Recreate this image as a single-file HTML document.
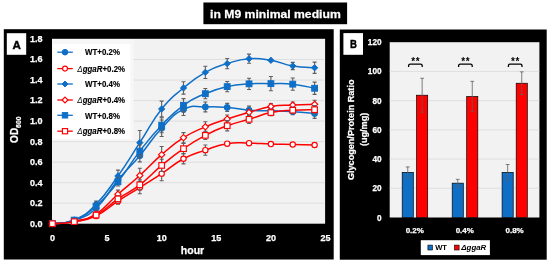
<!DOCTYPE html>
<html lang="en"><head><meta charset="utf-8"><title>in M9 minimal medium</title>
<style>html,body{margin:0;padding:0;background:#fff}svg{display:block}</style>
</head><body>
<svg width="550" height="263" viewBox="0 0 550 263" font-family="'Liberation Sans', Arial, sans-serif" font-weight="bold">
<rect width="550" height="263" fill="#ffffff"/>
<rect x="203.4" y="2.5" width="143.7" height="21.7" fill="#000"/>
<text transform="translate(275.4 18.4) scale(1.07 1)" font-size="11.4" fill="#fff" stroke="#fff" stroke-width="0.25" text-anchor="middle">in M9 minimal medium</text>
<rect x="3.8" y="29.2" width="329.9" height="230.3" fill="#000"/>
<rect x="6.8" y="33.2" width="19.4" height="21.6" fill="#fff"/>
<text x="16.8" y="49" font-size="11.6" fill="#000" stroke="#000" stroke-width="0.4" text-anchor="middle">A</text>
<rect x="52" y="38.8" width="73.1" height="184.90" fill="#f2f2f2"/>
<rect x="125" y="38.8" width="200.1" height="184.90" fill="#f2f2f2"/>
<line x1="52.00" x2="325.10" y1="203.18" y2="203.18" stroke="#d9d9d9" stroke-width="0.8"/>
<line x1="52.00" x2="325.10" y1="182.66" y2="182.66" stroke="#d9d9d9" stroke-width="0.8"/>
<line x1="52.00" x2="325.10" y1="162.13" y2="162.13" stroke="#d9d9d9" stroke-width="0.8"/>
<line x1="52.00" x2="325.10" y1="141.61" y2="141.61" stroke="#d9d9d9" stroke-width="0.8"/>
<line x1="52.00" x2="325.10" y1="121.09" y2="121.09" stroke="#d9d9d9" stroke-width="0.8"/>
<line x1="52.00" x2="325.10" y1="100.57" y2="100.57" stroke="#d9d9d9" stroke-width="0.8"/>
<line x1="52.00" x2="325.10" y1="80.04" y2="80.04" stroke="#d9d9d9" stroke-width="0.8"/>
<line x1="52.00" x2="325.10" y1="59.52" y2="59.52" stroke="#d9d9d9" stroke-width="0.8"/>
<text x="42.4" y="226.60" font-size="9" fill="#fff" stroke="#fff" stroke-width="0.25" text-anchor="end">0.0</text>
<text x="42.4" y="206.08" font-size="9" fill="#fff" stroke="#fff" stroke-width="0.25" text-anchor="end">0.2</text>
<text x="42.4" y="185.56" font-size="9" fill="#fff" stroke="#fff" stroke-width="0.25" text-anchor="end">0.4</text>
<text x="42.4" y="165.03" font-size="9" fill="#fff" stroke="#fff" stroke-width="0.25" text-anchor="end">0.6</text>
<text x="42.4" y="144.51" font-size="9" fill="#fff" stroke="#fff" stroke-width="0.25" text-anchor="end">0.8</text>
<text x="42.4" y="123.99" font-size="9" fill="#fff" stroke="#fff" stroke-width="0.25" text-anchor="end">1.0</text>
<text x="42.4" y="103.47" font-size="9" fill="#fff" stroke="#fff" stroke-width="0.25" text-anchor="end">1.2</text>
<text x="42.4" y="82.94" font-size="9" fill="#fff" stroke="#fff" stroke-width="0.25" text-anchor="end">1.4</text>
<text x="42.4" y="62.42" font-size="9" fill="#fff" stroke="#fff" stroke-width="0.25" text-anchor="end">1.6</text>
<text x="42.4" y="41.90" font-size="9" fill="#fff" stroke="#fff" stroke-width="0.25" text-anchor="end">1.8</text>
<text x="52.40" y="240.6" font-size="9" fill="#fff" stroke="#fff" stroke-width="0.25" text-anchor="middle">0</text>
<text x="107.03" y="240.6" font-size="9" fill="#fff" stroke="#fff" stroke-width="0.25" text-anchor="middle">5</text>
<text x="161.65" y="240.6" font-size="9" fill="#fff" stroke="#fff" stroke-width="0.25" text-anchor="middle">10</text>
<text x="216.28" y="240.6" font-size="9" fill="#fff" stroke="#fff" stroke-width="0.25" text-anchor="middle">15</text>
<text x="270.90" y="240.6" font-size="9" fill="#fff" stroke="#fff" stroke-width="0.25" text-anchor="middle">20</text>
<text x="325.52" y="240.6" font-size="9" fill="#fff" stroke="#fff" stroke-width="0.25" text-anchor="middle">25</text>
<text x="192.5" y="253.7" font-size="10.5" fill="#fff" stroke="#fff" stroke-width="0.25" text-anchor="middle">hour</text>
<text transform="translate(17.7 142.9) rotate(-90)" font-size="10" fill="#fff" stroke="#fff" stroke-width="0.25">OD<tspan font-size="6.8" dy="3.2">600</tspan></text>
<rect x="52" y="39" width="81.6" height="102" fill="#f7f7f7"/>
<rect x="53" y="44" width="77.3" height="94.8" fill="#ffffff"/>
<line x1="57.3" x2="72.8" y1="52.20" y2="52.20" stroke="#0f6fc6" stroke-width="1.3"/>
<circle cx="65.00" cy="52.20" r="2.80" fill="#0f6fc6" stroke="#0f6fc6" stroke-width="1.00"/>
<text transform="translate(102.5 55.40) scale(0.86 1)" font-size="9.2" fill="#000" stroke="#000" stroke-width="0.15" text-anchor="middle">WT+0.2%</text>
<line x1="57.3" x2="72.8" y1="68.60" y2="68.60" stroke="#ff0000" stroke-width="1.3"/>
<circle cx="65.00" cy="68.60" r="2.45" fill="#ffffff" stroke="#ff0000" stroke-width="1.15"/>
<text transform="translate(101.2 71.80) scale(0.86 1)" font-size="9.2" fill="#000" stroke="#000" stroke-width="0.15" text-anchor="middle"><tspan font-style="italic" font-weight="normal" stroke="none">Δ</tspan><tspan font-style="italic">ggaR</tspan>+0.2%</text>
<line x1="57.3" x2="72.8" y1="84.00" y2="84.00" stroke="#0f6fc6" stroke-width="1.3"/>
<path d="M65.00 81.05 L67.95 84.00 L65.00 86.95 L62.05 84.00Z" fill="#0f6fc6" stroke="#0f6fc6" stroke-width="1.00"/>
<text transform="translate(102.5 87.20) scale(0.86 1)" font-size="9.2" fill="#000" stroke="#000" stroke-width="0.15" text-anchor="middle">WT+0.4%</text>
<line x1="57.3" x2="72.8" y1="100.00" y2="100.00" stroke="#ff0000" stroke-width="1.3"/>
<path d="M65.00 97.10 L67.90 100.00 L65.00 102.90 L62.10 100.00Z" fill="#ffffff" stroke="#ff0000" stroke-width="1.15"/>
<text transform="translate(101.2 103.20) scale(0.86 1)" font-size="9.2" fill="#000" stroke="#000" stroke-width="0.15" text-anchor="middle"><tspan font-style="italic" font-weight="normal" stroke="none">Δ</tspan><tspan font-style="italic">ggaR</tspan>+0.4%</text>
<line x1="57.3" x2="72.8" y1="115.30" y2="115.30" stroke="#0f6fc6" stroke-width="1.3"/>
<rect x="62.30" y="112.60" width="5.40" height="5.40" fill="#0f6fc6" stroke="#0f6fc6" stroke-width="1.00"/>
<text transform="translate(102.5 118.50) scale(0.86 1)" font-size="9.2" fill="#000" stroke="#000" stroke-width="0.15" text-anchor="middle">WT+0.8%</text>
<line x1="57.3" x2="72.8" y1="131.20" y2="131.20" stroke="#ff0000" stroke-width="1.3"/>
<rect x="62.40" y="128.60" width="5.20" height="5.20" fill="#ffffff" stroke="#ff0000" stroke-width="1.15"/>
<text transform="translate(101.2 134.40) scale(0.86 1)" font-size="9.2" fill="#000" stroke="#000" stroke-width="0.15" text-anchor="middle"><tspan font-style="italic" font-weight="normal" stroke="none">Δ</tspan><tspan font-style="italic">ggaR</tspan>+0.8%</text>
<path d="M96.10 205.13 V211.28 M94.10 205.13 H98.10 M94.10 211.28 H98.10" stroke="#5f5f5f" stroke-width="1.10" fill="none" opacity="1.00"/>
<path d="M117.95 175.99 V184.19 M115.95 175.99 H119.95 M115.95 184.19 H119.95" stroke="#5f5f5f" stroke-width="1.10" fill="none" opacity="1.00"/>
<path d="M139.80 149.51 V161.83 M137.80 149.51 H141.80 M137.80 161.83 H141.80" stroke="#5f5f5f" stroke-width="1.10" fill="none" opacity="1.00"/>
<path d="M161.65 120.06 V136.48 M159.65 120.06 H163.65 M159.65 136.48 H163.65" stroke="#5f5f5f" stroke-width="1.10" fill="none" opacity="1.00"/>
<path d="M183.50 103.23 V115.55 M181.50 103.23 H185.50 M181.50 115.55 H185.50" stroke="#5f5f5f" stroke-width="1.10" fill="none" opacity="1.00"/>
<path d="M205.35 102.00 V111.85 M203.35 102.00 H207.35 M203.35 111.85 H207.35" stroke="#5f5f5f" stroke-width="1.10" fill="none" opacity="1.00"/>
<path d="M227.20 103.34 V111.55 M225.20 103.34 H229.20 M225.20 111.55 H229.20" stroke="#5f5f5f" stroke-width="1.10" fill="none" opacity="1.00"/>
<path d="M249.05 106.11 V114.32 M247.05 106.11 H251.05 M247.05 114.32 H251.05" stroke="#5f5f5f" stroke-width="1.10" fill="none" opacity="1.00"/>
<path d="M270.90 107.75 V113.91 M268.90 107.75 H272.90 M268.90 113.91 H272.90" stroke="#5f5f5f" stroke-width="1.10" fill="none" opacity="1.00"/>
<path d="M292.75 108.57 V114.73 M290.75 108.57 H294.75 M290.75 114.73 H294.75" stroke="#5f5f5f" stroke-width="1.10" fill="none" opacity="1.00"/>
<path d="M314.60 108.57 V118.42 M312.60 108.57 H316.60 M312.60 118.42 H316.60" stroke="#5f5f5f" stroke-width="1.10" fill="none" opacity="1.00"/>
<path d="M52.40 223.70 C57.86 222.80 63.33 223.98 74.25 220.11 C85.17 216.24 85.17 218.21 96.10 208.21 C107.03 198.20 107.03 193.22 117.95 180.09 C128.88 166.96 128.88 168.62 139.80 155.67 C150.73 142.71 150.72 139.84 161.65 128.27 C172.58 116.70 172.58 114.73 183.50 109.39 C194.43 104.06 194.43 107.42 205.35 106.93 C216.28 106.44 216.28 106.62 227.20 107.44 C238.12 108.26 238.13 109.37 249.05 110.21 C259.98 111.06 259.97 110.47 270.90 110.83 C281.82 111.19 281.82 110.98 292.75 111.65 C303.68 112.32 309.14 113.03 314.60 113.50" fill="none" stroke="#0f6fc6" stroke-width="1.5" stroke-linejoin="round"/>
<circle cx="52.40" cy="223.70" r="3.00" fill="#0f6fc6" stroke="#0f6fc6" stroke-width="1.00"/>
<circle cx="74.25" cy="220.11" r="3.00" fill="#0f6fc6" stroke="#0f6fc6" stroke-width="1.00"/>
<circle cx="96.10" cy="208.21" r="3.00" fill="#0f6fc6" stroke="#0f6fc6" stroke-width="1.00"/>
<circle cx="117.95" cy="180.09" r="3.00" fill="#0f6fc6" stroke="#0f6fc6" stroke-width="1.00"/>
<circle cx="139.80" cy="155.67" r="3.00" fill="#0f6fc6" stroke="#0f6fc6" stroke-width="1.00"/>
<circle cx="161.65" cy="128.27" r="3.00" fill="#0f6fc6" stroke="#0f6fc6" stroke-width="1.00"/>
<circle cx="183.50" cy="109.39" r="3.00" fill="#0f6fc6" stroke="#0f6fc6" stroke-width="1.00"/>
<circle cx="205.35" cy="106.93" r="3.00" fill="#0f6fc6" stroke="#0f6fc6" stroke-width="1.00"/>
<circle cx="227.20" cy="107.44" r="3.00" fill="#0f6fc6" stroke="#0f6fc6" stroke-width="1.00"/>
<circle cx="249.05" cy="110.21" r="3.00" fill="#0f6fc6" stroke="#0f6fc6" stroke-width="1.00"/>
<circle cx="270.90" cy="110.83" r="3.00" fill="#0f6fc6" stroke="#0f6fc6" stroke-width="1.00"/>
<circle cx="292.75" cy="111.65" r="3.00" fill="#0f6fc6" stroke="#0f6fc6" stroke-width="1.00"/>
<circle cx="314.60" cy="113.50" r="3.00" fill="#0f6fc6" stroke="#0f6fc6" stroke-width="1.00"/>
<path d="M96.10 214.88 V216.93 M94.10 214.88 H98.10 M94.10 216.93 H98.10" stroke="#5f5f5f" stroke-width="1.10" fill="none" opacity="1.00"/>
<path d="M117.95 198.05 V204.20 M115.95 198.05 H119.95 M115.95 204.20 H119.95" stroke="#5f5f5f" stroke-width="1.10" fill="none" opacity="1.00"/>
<path d="M139.80 181.42 V193.74 M137.80 181.42 H141.80 M137.80 193.74 H141.80" stroke="#5f5f5f" stroke-width="1.10" fill="none" opacity="1.00"/>
<path d="M161.65 166.44 V180.81 M159.65 166.44 H163.65 M159.65 180.81 H163.65" stroke="#5f5f5f" stroke-width="1.10" fill="none" opacity="1.00"/>
<path d="M183.50 153.62 V163.88 M181.50 153.62 H185.50 M181.50 163.88 H185.50" stroke="#5f5f5f" stroke-width="1.10" fill="none" opacity="1.00"/>
<path d="M205.35 145.00 V155.26 M203.35 145.00 H207.35 M203.35 155.26 H207.35" stroke="#5f5f5f" stroke-width="1.10" fill="none" opacity="1.00"/>
<path d="M314.60 142.95 V147.05 M312.60 142.95 H316.60 M312.60 147.05 H316.60" stroke="#5f5f5f" stroke-width="1.10" fill="none" opacity="1.00"/>
<path d="M52.40 223.70 C57.86 223.24 63.33 223.80 74.25 221.85 C85.17 219.90 85.17 221.08 96.10 215.90 C107.03 210.72 107.03 208.21 117.95 201.13 C128.88 194.05 128.88 194.46 139.80 187.58 C150.73 180.71 150.72 180.83 161.65 173.63 C172.58 166.42 172.58 164.62 183.50 158.75 C194.43 152.87 194.43 153.90 205.35 150.13 C216.28 146.36 216.28 145.41 227.20 143.66 C238.12 141.92 238.13 143.05 249.05 143.15 C259.98 143.25 259.97 143.74 270.90 144.07 C281.82 144.41 281.82 144.25 292.75 144.48 C303.68 144.72 309.14 144.87 314.60 145.00" fill="none" stroke="#ff0000" stroke-width="1.5" stroke-linejoin="round"/>
<circle cx="52.40" cy="223.70" r="2.65" fill="#ffffff" stroke="#ff0000" stroke-width="1.15"/>
<circle cx="74.25" cy="221.85" r="2.65" fill="#ffffff" stroke="#ff0000" stroke-width="1.15"/>
<circle cx="96.10" cy="215.90" r="2.65" fill="#ffffff" stroke="#ff0000" stroke-width="1.15"/>
<circle cx="117.95" cy="201.13" r="2.65" fill="#ffffff" stroke="#ff0000" stroke-width="1.15"/>
<circle cx="139.80" cy="187.58" r="2.65" fill="#ffffff" stroke="#ff0000" stroke-width="1.15"/>
<circle cx="161.65" cy="173.63" r="2.65" fill="#ffffff" stroke="#ff0000" stroke-width="1.15"/>
<circle cx="183.50" cy="158.75" r="2.65" fill="#ffffff" stroke="#ff0000" stroke-width="1.15"/>
<circle cx="205.35" cy="150.13" r="2.65" fill="#ffffff" stroke="#ff0000" stroke-width="1.15"/>
<circle cx="227.20" cy="143.66" r="2.65" fill="#ffffff" stroke="#ff0000" stroke-width="1.15"/>
<circle cx="249.05" cy="143.15" r="2.65" fill="#ffffff" stroke="#ff0000" stroke-width="1.15"/>
<circle cx="270.90" cy="144.07" r="2.65" fill="#ffffff" stroke="#ff0000" stroke-width="1.15"/>
<circle cx="292.75" cy="144.48" r="2.65" fill="#ffffff" stroke="#ff0000" stroke-width="1.15"/>
<circle cx="314.60" cy="145.00" r="2.65" fill="#ffffff" stroke="#ff0000" stroke-width="1.15"/>
<path d="M96.10 201.13 V207.28 M94.10 201.13 H98.10 M94.10 207.28 H98.10" stroke="#5f5f5f" stroke-width="1.10" fill="none" opacity="1.00"/>
<path d="M117.95 170.14 V181.83 M115.95 170.14 H119.95 M115.95 181.83 H119.95" stroke="#5f5f5f" stroke-width="1.10" fill="none" opacity="1.00"/>
<path d="M139.80 130.43 V154.85 M137.80 130.43 H141.80 M137.80 154.85 H141.80" stroke="#5f5f5f" stroke-width="1.10" fill="none" opacity="1.00"/>
<path d="M161.65 101.08 V116.88 M159.65 101.08 H163.65 M159.65 116.88 H163.65" stroke="#5f5f5f" stroke-width="1.10" fill="none" opacity="1.00"/>
<path d="M183.50 81.79 V94.10 M181.50 81.79 H185.50 M181.50 94.10 H185.50" stroke="#5f5f5f" stroke-width="1.10" fill="none" opacity="1.00"/>
<path d="M205.35 66.19 V78.51 M203.35 66.19 H207.35 M203.35 78.51 H207.35" stroke="#5f5f5f" stroke-width="1.10" fill="none" opacity="1.00"/>
<path d="M227.20 58.50 V68.76 M225.20 58.50 H229.20 M225.20 68.76 H229.20" stroke="#5f5f5f" stroke-width="1.10" fill="none" opacity="1.00"/>
<path d="M249.05 54.08 V63.32 M247.05 54.08 H251.05 M247.05 63.32 H251.05" stroke="#5f5f5f" stroke-width="1.10" fill="none" opacity="1.00"/>
<path d="M292.75 62.40 V69.58 M290.75 62.40 H294.75 M290.75 69.58 H294.75" stroke="#5f5f5f" stroke-width="1.10" fill="none" opacity="1.00"/>
<path d="M314.60 62.09 V73.37 M312.60 62.09 H316.60 M312.60 73.37 H316.60" stroke="#5f5f5f" stroke-width="1.10" fill="none" opacity="1.00"/>
<path d="M52.40 223.70 C57.86 222.80 63.33 224.98 74.25 220.11 C85.17 215.23 85.17 215.23 96.10 204.20 C107.03 193.17 107.03 191.38 117.95 175.99 C128.88 160.59 128.88 159.39 139.80 142.64 C150.73 125.89 150.72 122.65 161.65 108.98 C172.58 95.31 172.58 97.10 183.50 87.95 C194.43 78.79 194.43 78.43 205.35 72.35 C216.28 66.27 216.28 67.04 227.20 63.63 C238.12 60.21 238.13 59.52 249.05 58.70 C259.98 57.88 259.97 58.52 270.90 60.34 C281.82 62.16 281.82 64.14 292.75 65.99 C303.68 67.83 309.14 67.30 314.60 67.73" fill="none" stroke="#0f6fc6" stroke-width="1.5" stroke-linejoin="round"/>
<path d="M52.40 220.55 L55.55 223.70 L52.40 226.85 L49.25 223.70Z" fill="#0f6fc6" stroke="#0f6fc6" stroke-width="1.00"/>
<path d="M74.25 216.96 L77.40 220.11 L74.25 223.26 L71.10 220.11Z" fill="#0f6fc6" stroke="#0f6fc6" stroke-width="1.00"/>
<path d="M96.10 201.05 L99.25 204.20 L96.10 207.35 L92.95 204.20Z" fill="#0f6fc6" stroke="#0f6fc6" stroke-width="1.00"/>
<path d="M117.95 172.84 L121.10 175.99 L117.95 179.14 L114.80 175.99Z" fill="#0f6fc6" stroke="#0f6fc6" stroke-width="1.00"/>
<path d="M139.80 139.49 L142.95 142.64 L139.80 145.79 L136.65 142.64Z" fill="#0f6fc6" stroke="#0f6fc6" stroke-width="1.00"/>
<path d="M161.65 105.83 L164.80 108.98 L161.65 112.13 L158.50 108.98Z" fill="#0f6fc6" stroke="#0f6fc6" stroke-width="1.00"/>
<path d="M183.50 84.80 L186.65 87.95 L183.50 91.10 L180.35 87.95Z" fill="#0f6fc6" stroke="#0f6fc6" stroke-width="1.00"/>
<path d="M205.35 69.20 L208.50 72.35 L205.35 75.50 L202.20 72.35Z" fill="#0f6fc6" stroke="#0f6fc6" stroke-width="1.00"/>
<path d="M227.20 60.48 L230.35 63.63 L227.20 66.78 L224.05 63.63Z" fill="#0f6fc6" stroke="#0f6fc6" stroke-width="1.00"/>
<path d="M249.05 55.55 L252.20 58.70 L249.05 61.85 L245.90 58.70Z" fill="#0f6fc6" stroke="#0f6fc6" stroke-width="1.00"/>
<path d="M270.90 57.19 L274.05 60.34 L270.90 63.49 L267.75 60.34Z" fill="#0f6fc6" stroke="#0f6fc6" stroke-width="1.00"/>
<path d="M292.75 62.84 L295.90 65.99 L292.75 69.14 L289.60 65.99Z" fill="#0f6fc6" stroke="#0f6fc6" stroke-width="1.00"/>
<path d="M314.60 64.58 L317.75 67.73 L314.60 70.88 L311.45 67.73Z" fill="#0f6fc6" stroke="#0f6fc6" stroke-width="1.00"/>
<path d="M96.10 212.93 V214.98 M94.10 212.93 H98.10 M94.10 214.98 H98.10" stroke="#5f5f5f" stroke-width="1.10" fill="none" opacity="1.00"/>
<path d="M117.95 190.15 V198.36 M115.95 190.15 H119.95 M115.95 198.36 H119.95" stroke="#5f5f5f" stroke-width="1.10" fill="none" opacity="1.00"/>
<path d="M139.80 168.29 V182.66 M137.80 168.29 H141.80 M137.80 182.66 H141.80" stroke="#5f5f5f" stroke-width="1.10" fill="none" opacity="1.00"/>
<path d="M161.65 146.43 V162.85 M159.65 146.43 H163.65 M159.65 162.85 H163.65" stroke="#5f5f5f" stroke-width="1.10" fill="none" opacity="1.00"/>
<path d="M183.50 132.58 V142.84 M181.50 132.58 H185.50 M181.50 142.84 H185.50" stroke="#5f5f5f" stroke-width="1.10" fill="none" opacity="1.00"/>
<path d="M205.35 121.70 V131.97 M203.35 121.70 H207.35 M203.35 131.97 H207.35" stroke="#5f5f5f" stroke-width="1.10" fill="none" opacity="1.00"/>
<path d="M227.20 114.93 V123.14 M225.20 114.93 H229.20 M225.20 123.14 H229.20" stroke="#5f5f5f" stroke-width="1.10" fill="none" opacity="1.00"/>
<path d="M249.05 109.29 V115.45 M247.05 109.29 H251.05 M247.05 115.45 H251.05" stroke="#5f5f5f" stroke-width="1.10" fill="none" opacity="1.00"/>
<path d="M270.90 103.44 V109.60 M268.90 103.44 H272.90 M268.90 109.60 H272.90" stroke="#5f5f5f" stroke-width="1.10" fill="none" opacity="1.00"/>
<path d="M292.75 102.00 V108.16 M290.75 102.00 H294.75 M290.75 108.16 H294.75" stroke="#5f5f5f" stroke-width="1.10" fill="none" opacity="1.00"/>
<path d="M314.60 100.26 V108.47 M312.60 100.26 H316.60 M312.60 108.47 H316.60" stroke="#5f5f5f" stroke-width="1.10" fill="none" opacity="1.00"/>
<path d="M52.40 223.70 C57.86 223.06 63.33 223.57 74.25 221.13 C85.17 218.70 85.17 220.67 96.10 213.95 C107.03 207.23 107.03 203.87 117.95 194.25 C128.88 184.63 128.88 185.37 139.80 175.47 C150.73 165.57 150.72 164.08 161.65 154.64 C172.58 145.20 172.58 144.66 183.50 137.71 C194.43 130.76 194.43 131.50 205.35 126.84 C216.28 122.17 216.28 122.65 227.20 119.04 C238.12 115.42 238.13 115.50 249.05 112.37 C259.98 109.24 259.97 108.34 270.90 106.52 C281.82 104.70 281.82 105.62 292.75 105.08 C303.68 104.54 309.14 104.54 314.60 104.36" fill="none" stroke="#ff0000" stroke-width="1.5" stroke-linejoin="round"/>
<path d="M52.40 220.60 L55.50 223.70 L52.40 226.80 L49.30 223.70Z" fill="#ffffff" stroke="#ff0000" stroke-width="1.15"/>
<path d="M74.25 218.03 L77.35 221.13 L74.25 224.23 L71.15 221.13Z" fill="#ffffff" stroke="#ff0000" stroke-width="1.15"/>
<path d="M96.10 210.85 L99.20 213.95 L96.10 217.05 L93.00 213.95Z" fill="#ffffff" stroke="#ff0000" stroke-width="1.15"/>
<path d="M117.95 191.15 L121.05 194.25 L117.95 197.35 L114.85 194.25Z" fill="#ffffff" stroke="#ff0000" stroke-width="1.15"/>
<path d="M139.80 172.37 L142.90 175.47 L139.80 178.57 L136.70 175.47Z" fill="#ffffff" stroke="#ff0000" stroke-width="1.15"/>
<path d="M161.65 151.54 L164.75 154.64 L161.65 157.74 L158.55 154.64Z" fill="#ffffff" stroke="#ff0000" stroke-width="1.15"/>
<path d="M183.50 134.61 L186.60 137.71 L183.50 140.81 L180.40 137.71Z" fill="#ffffff" stroke="#ff0000" stroke-width="1.15"/>
<path d="M205.35 123.74 L208.45 126.84 L205.35 129.94 L202.25 126.84Z" fill="#ffffff" stroke="#ff0000" stroke-width="1.15"/>
<path d="M227.20 115.94 L230.30 119.04 L227.20 122.14 L224.10 119.04Z" fill="#ffffff" stroke="#ff0000" stroke-width="1.15"/>
<path d="M249.05 109.27 L252.15 112.37 L249.05 115.47 L245.95 112.37Z" fill="#ffffff" stroke="#ff0000" stroke-width="1.15"/>
<path d="M270.90 103.42 L274.00 106.52 L270.90 109.62 L267.80 106.52Z" fill="#ffffff" stroke="#ff0000" stroke-width="1.15"/>
<path d="M292.75 101.98 L295.85 105.08 L292.75 108.18 L289.65 105.08Z" fill="#ffffff" stroke="#ff0000" stroke-width="1.15"/>
<path d="M314.60 101.26 L317.70 104.36 L314.60 107.46 L311.50 104.36Z" fill="#ffffff" stroke="#ff0000" stroke-width="1.15"/>
<path d="M96.10 202.97 V209.13 M94.10 202.97 H98.10 M94.10 209.13 H98.10" stroke="#5f5f5f" stroke-width="1.10" fill="none" opacity="1.00"/>
<path d="M117.95 177.73 V185.94 M115.95 177.73 H119.95 M115.95 185.94 H119.95" stroke="#5f5f5f" stroke-width="1.10" fill="none" opacity="1.00"/>
<path d="M139.80 145.00 V157.31 M137.80 145.00 H141.80 M137.80 157.31 H141.80" stroke="#5f5f5f" stroke-width="1.10" fill="none" opacity="1.00"/>
<path d="M161.65 117.70 V132.68 M159.65 117.70 H163.65 M159.65 132.68 H163.65" stroke="#5f5f5f" stroke-width="1.10" fill="none" opacity="1.00"/>
<path d="M183.50 98.62 V111.96 M181.50 98.62 H185.50 M181.50 111.96 H185.50" stroke="#5f5f5f" stroke-width="1.10" fill="none" opacity="1.00"/>
<path d="M205.35 88.56 V98.82 M203.35 88.56 H207.35 M203.35 98.82 H207.35" stroke="#5f5f5f" stroke-width="1.10" fill="none" opacity="1.00"/>
<path d="M227.20 81.48 V91.74 M225.20 81.48 H229.20 M225.20 91.74 H229.20" stroke="#5f5f5f" stroke-width="1.10" fill="none" opacity="1.00"/>
<path d="M249.05 78.20 V89.48 M247.05 78.20 H251.05 M247.05 89.48 H251.05" stroke="#5f5f5f" stroke-width="1.10" fill="none" opacity="1.00"/>
<path d="M270.90 76.45 V90.82 M268.90 76.45 H272.90 M268.90 90.82 H272.90" stroke="#5f5f5f" stroke-width="1.10" fill="none" opacity="1.00"/>
<path d="M292.75 77.99 V90.31 M290.75 77.99 H294.75 M290.75 90.31 H294.75" stroke="#5f5f5f" stroke-width="1.10" fill="none" opacity="1.00"/>
<path d="M314.60 82.10 V94.41 M312.60 82.10 H316.60 M312.60 94.41 H316.60" stroke="#5f5f5f" stroke-width="1.10" fill="none" opacity="1.00"/>
<path d="M52.40 223.70 C57.86 222.80 63.33 224.52 74.25 220.11 C85.17 215.70 85.17 215.62 96.10 206.05 C107.03 196.48 107.03 195.56 117.95 181.83 C128.88 168.11 128.88 165.31 139.80 151.15 C150.73 136.99 150.72 136.66 161.65 125.19 C172.58 113.73 172.58 113.16 183.50 105.29 C194.43 97.41 194.43 98.36 205.35 93.69 C216.28 89.02 216.28 89.07 227.20 86.61 C238.12 84.15 238.13 84.58 249.05 83.84 C259.98 83.10 259.97 83.56 270.90 83.64 C281.82 83.71 281.82 82.99 292.75 84.15 C303.68 85.30 309.14 87.23 314.60 88.25" fill="none" stroke="#0f6fc6" stroke-width="1.5" stroke-linejoin="round"/>
<rect x="49.50" y="220.80" width="5.80" height="5.80" fill="#0f6fc6" stroke="#0f6fc6" stroke-width="1.00"/>
<rect x="71.35" y="217.21" width="5.80" height="5.80" fill="#0f6fc6" stroke="#0f6fc6" stroke-width="1.00"/>
<rect x="93.20" y="203.15" width="5.80" height="5.80" fill="#0f6fc6" stroke="#0f6fc6" stroke-width="1.00"/>
<rect x="115.05" y="178.93" width="5.80" height="5.80" fill="#0f6fc6" stroke="#0f6fc6" stroke-width="1.00"/>
<rect x="136.90" y="148.25" width="5.80" height="5.80" fill="#0f6fc6" stroke="#0f6fc6" stroke-width="1.00"/>
<rect x="158.75" y="122.29" width="5.80" height="5.80" fill="#0f6fc6" stroke="#0f6fc6" stroke-width="1.00"/>
<rect x="180.60" y="102.39" width="5.80" height="5.80" fill="#0f6fc6" stroke="#0f6fc6" stroke-width="1.00"/>
<rect x="202.45" y="90.79" width="5.80" height="5.80" fill="#0f6fc6" stroke="#0f6fc6" stroke-width="1.00"/>
<rect x="224.30" y="83.71" width="5.80" height="5.80" fill="#0f6fc6" stroke="#0f6fc6" stroke-width="1.00"/>
<rect x="246.15" y="80.94" width="5.80" height="5.80" fill="#0f6fc6" stroke="#0f6fc6" stroke-width="1.00"/>
<rect x="268.00" y="80.74" width="5.80" height="5.80" fill="#0f6fc6" stroke="#0f6fc6" stroke-width="1.00"/>
<rect x="289.85" y="81.25" width="5.80" height="5.80" fill="#0f6fc6" stroke="#0f6fc6" stroke-width="1.00"/>
<rect x="311.70" y="85.35" width="5.80" height="5.80" fill="#0f6fc6" stroke="#0f6fc6" stroke-width="1.00"/>
<path d="M96.10 214.05 V216.11 M94.10 214.05 H98.10 M94.10 216.11 H98.10" stroke="#5f5f5f" stroke-width="1.10" fill="none" opacity="1.00"/>
<path d="M117.95 195.79 V201.95 M115.95 195.79 H119.95 M115.95 201.95 H119.95" stroke="#5f5f5f" stroke-width="1.10" fill="none" opacity="1.00"/>
<path d="M139.80 179.68 V189.94 M137.80 179.68 H141.80 M137.80 189.94 H141.80" stroke="#5f5f5f" stroke-width="1.10" fill="none" opacity="1.00"/>
<path d="M161.65 159.26 V171.57 M159.65 159.26 H163.65 M159.65 171.57 H163.65" stroke="#5f5f5f" stroke-width="1.10" fill="none" opacity="1.00"/>
<path d="M183.50 143.56 V153.82 M181.50 143.56 H185.50 M181.50 153.82 H185.50" stroke="#5f5f5f" stroke-width="1.10" fill="none" opacity="1.00"/>
<path d="M205.35 131.25 V139.46 M203.35 131.25 H207.35 M203.35 139.46 H207.35" stroke="#5f5f5f" stroke-width="1.10" fill="none" opacity="1.00"/>
<path d="M227.20 120.58 V130.84 M225.20 120.58 H229.20 M225.20 130.84 H229.20" stroke="#5f5f5f" stroke-width="1.10" fill="none" opacity="1.00"/>
<path d="M249.05 115.24 V123.45 M247.05 115.24 H251.05 M247.05 123.45 H251.05" stroke="#5f5f5f" stroke-width="1.10" fill="none" opacity="1.00"/>
<path d="M270.90 109.49 V115.65 M268.90 109.49 H272.90 M268.90 115.65 H272.90" stroke="#5f5f5f" stroke-width="1.10" fill="none" opacity="1.00"/>
<path d="M292.75 107.13 V113.29 M290.75 107.13 H294.75 M290.75 113.29 H294.75" stroke="#5f5f5f" stroke-width="1.10" fill="none" opacity="1.00"/>
<path d="M314.60 105.59 V113.80 M312.60 105.59 H316.60 M312.60 113.80 H316.60" stroke="#5f5f5f" stroke-width="1.10" fill="none" opacity="1.00"/>
<path d="M52.40 223.70 C57.86 223.19 63.33 223.80 74.25 221.65 C85.17 219.49 85.17 220.78 96.10 215.08 C107.03 209.39 107.03 206.44 117.95 198.87 C128.88 191.30 128.88 193.17 139.80 184.81 C150.73 176.45 150.72 174.45 161.65 165.42 C172.58 156.39 172.58 156.21 183.50 148.69 C194.43 141.18 194.43 141.10 205.35 135.35 C216.28 129.61 216.28 129.71 227.20 125.71 C238.12 121.70 238.13 122.63 249.05 119.34 C259.98 116.06 259.97 114.86 270.90 112.57 C281.82 110.29 281.82 110.93 292.75 110.21 C303.68 109.49 309.14 109.83 314.60 109.70" fill="none" stroke="#ff0000" stroke-width="1.5" stroke-linejoin="round"/>
<rect x="49.60" y="220.90" width="5.60" height="5.60" fill="#ffffff" stroke="#ff0000" stroke-width="1.15"/>
<rect x="71.45" y="218.85" width="5.60" height="5.60" fill="#ffffff" stroke="#ff0000" stroke-width="1.15"/>
<rect x="93.30" y="212.28" width="5.60" height="5.60" fill="#ffffff" stroke="#ff0000" stroke-width="1.15"/>
<rect x="115.15" y="196.07" width="5.60" height="5.60" fill="#ffffff" stroke="#ff0000" stroke-width="1.15"/>
<rect x="137.00" y="182.01" width="5.60" height="5.60" fill="#ffffff" stroke="#ff0000" stroke-width="1.15"/>
<rect x="158.85" y="162.62" width="5.60" height="5.60" fill="#ffffff" stroke="#ff0000" stroke-width="1.15"/>
<rect x="180.70" y="145.89" width="5.60" height="5.60" fill="#ffffff" stroke="#ff0000" stroke-width="1.15"/>
<rect x="202.55" y="132.55" width="5.60" height="5.60" fill="#ffffff" stroke="#ff0000" stroke-width="1.15"/>
<rect x="224.40" y="122.91" width="5.60" height="5.60" fill="#ffffff" stroke="#ff0000" stroke-width="1.15"/>
<rect x="246.25" y="116.54" width="5.60" height="5.60" fill="#ffffff" stroke="#ff0000" stroke-width="1.15"/>
<rect x="268.10" y="109.77" width="5.60" height="5.60" fill="#ffffff" stroke="#ff0000" stroke-width="1.15"/>
<rect x="289.95" y="107.41" width="5.60" height="5.60" fill="#ffffff" stroke="#ff0000" stroke-width="1.15"/>
<rect x="311.80" y="106.90" width="5.60" height="5.60" fill="#ffffff" stroke="#ff0000" stroke-width="1.15"/>
<rect x="339.8" y="29.5" width="206.9" height="230.2" fill="#000"/>
<rect x="343.4" y="33.1" width="19.6" height="21.7" fill="#fff"/>
<text transform="translate(353.5 48.3) scale(0.84 1)" font-size="11.4" fill="#000" stroke="#000" stroke-width="0.4" text-anchor="middle">B</text>
<rect x="389.70" y="42.20" width="149.70" height="175.30" fill="#f2f2f2"/>
<line x1="389.70" x2="539.40" y1="188.28" y2="188.28" stroke="#d9d9d9" stroke-width="0.8"/>
<line x1="389.70" x2="539.40" y1="159.07" y2="159.07" stroke="#d9d9d9" stroke-width="0.8"/>
<line x1="389.70" x2="539.40" y1="129.85" y2="129.85" stroke="#d9d9d9" stroke-width="0.8"/>
<line x1="389.70" x2="539.40" y1="100.63" y2="100.63" stroke="#d9d9d9" stroke-width="0.8"/>
<line x1="389.70" x2="539.40" y1="71.42" y2="71.42" stroke="#d9d9d9" stroke-width="0.8"/>
<text x="381.5" y="220.50" font-size="8.2" fill="#fff" stroke="#fff" stroke-width="0.25" text-anchor="end">0</text>
<text x="381.5" y="191.28" font-size="8.2" fill="#fff" stroke="#fff" stroke-width="0.25" text-anchor="end">20</text>
<text x="381.5" y="162.07" font-size="8.2" fill="#fff" stroke="#fff" stroke-width="0.25" text-anchor="end">40</text>
<text x="381.5" y="132.85" font-size="8.2" fill="#fff" stroke="#fff" stroke-width="0.25" text-anchor="end">60</text>
<text x="381.5" y="103.63" font-size="8.2" fill="#fff" stroke="#fff" stroke-width="0.25" text-anchor="end">80</text>
<text x="381.5" y="74.42" font-size="8.2" fill="#fff" stroke="#fff" stroke-width="0.25" text-anchor="end">100</text>
<text x="381.5" y="45.20" font-size="8.2" fill="#fff" stroke="#fff" stroke-width="0.25" text-anchor="end">120</text>
<rect x="402.20" y="172.36" width="11.10" height="45.14" fill="#0f6fc6" stroke="#000" stroke-width="0.7"/>
<rect x="416.60" y="95.23" width="11.10" height="122.27" fill="#ff0000" stroke="#000" stroke-width="0.7"/>
<path d="M407.75 166.96 V177.77 M405.85 166.96 H409.65 M405.85 177.77 H409.65" stroke="#5f5f5f" stroke-width="1.00" fill="none" opacity="0.80"/>
<path d="M422.15 78.28 V112.17 M420.25 78.28 H424.05 M420.25 112.17 H424.05" stroke="#5f5f5f" stroke-width="1.00" fill="none" opacity="0.80"/>
<text x="414.80" y="232.7" font-size="8" fill="#fff" stroke="#fff" stroke-width="0.25" text-anchor="middle">0.2%</text>
<path d="M408.60 67 V65.8 Q408.60 64.2 410.20 64.2 H420.60 Q422.20 64.2 422.20 65.8 V67" fill="none" stroke="#000" stroke-width="1.3"/>
<text x="415.75" y="65.3" font-size="10" letter-spacing="0.7" fill="#000" text-anchor="middle">**</text>
<rect x="452.20" y="183.17" width="11.10" height="34.33" fill="#0f6fc6" stroke="#000" stroke-width="0.7"/>
<rect x="466.70" y="96.54" width="11.10" height="120.96" fill="#ff0000" stroke="#000" stroke-width="0.7"/>
<path d="M457.75 179.37 V186.97 M455.85 179.37 H459.65 M455.85 186.97 H459.65" stroke="#5f5f5f" stroke-width="1.00" fill="none" opacity="0.80"/>
<path d="M472.25 81.35 V111.74 M470.35 81.35 H474.15 M470.35 111.74 H474.15" stroke="#5f5f5f" stroke-width="1.00" fill="none" opacity="0.80"/>
<text x="464.80" y="232.7" font-size="8" fill="#fff" stroke="#fff" stroke-width="0.25" text-anchor="middle">0.4%</text>
<path d="M458.60 67 V65.8 Q458.60 64.2 460.20 64.2 H470.60 Q472.20 64.2 472.20 65.8 V67" fill="none" stroke="#000" stroke-width="1.3"/>
<text x="465.75" y="65.3" font-size="10" letter-spacing="0.7" fill="#000" text-anchor="middle">**</text>
<rect x="502.10" y="172.36" width="11.10" height="45.14" fill="#0f6fc6" stroke="#000" stroke-width="0.7"/>
<rect x="516.20" y="83.25" width="11.10" height="134.25" fill="#ff0000" stroke="#000" stroke-width="0.7"/>
<path d="M507.65 164.47 V180.25 M505.75 164.47 H509.55 M505.75 180.25 H509.55" stroke="#5f5f5f" stroke-width="1.00" fill="none" opacity="0.80"/>
<path d="M521.75 71.85 V94.64 M519.85 71.85 H523.65 M519.85 94.64 H523.65" stroke="#5f5f5f" stroke-width="1.00" fill="none" opacity="0.80"/>
<text x="514.60" y="232.7" font-size="8" fill="#fff" stroke="#fff" stroke-width="0.25" text-anchor="middle">0.8%</text>
<path d="M508.40 67 V65.8 Q508.40 64.2 510.00 64.2 H520.40 Q522.00 64.2 522.00 65.8 V67" fill="none" stroke="#000" stroke-width="1.3"/>
<text x="515.55" y="65.3" font-size="10" letter-spacing="0.7" fill="#000" text-anchor="middle">**</text>
<text transform="translate(353.9 129.8) rotate(-90)" font-size="9.1" fill="#fff" stroke="#fff" stroke-width="0.25" text-anchor="middle">Glycogen/Protein Ratio</text>
<text transform="translate(366.5 129.4) rotate(-90)" font-size="9.1" fill="#fff" stroke="#fff" stroke-width="0.25" text-anchor="middle">(ug/mg)</text>
<rect x="420.8" y="240.2" width="69.1" height="14.9" fill="#fff"/>
<rect x="427.9" y="245.1" width="4.6" height="4.9" fill="#0f6fc6" stroke="#000" stroke-width="0.6"/>
<text x="435.2" y="250.1" font-size="7.6" fill="#000">WT</text>
<rect x="454.5" y="245.1" width="4.6" height="4.9" fill="#ff0000" stroke="#000" stroke-width="0.6"/>
<text x="461.3" y="250.1" font-size="7.9" fill="#000" font-style="italic">ΔggaR</text>
</svg>
</body></html>
